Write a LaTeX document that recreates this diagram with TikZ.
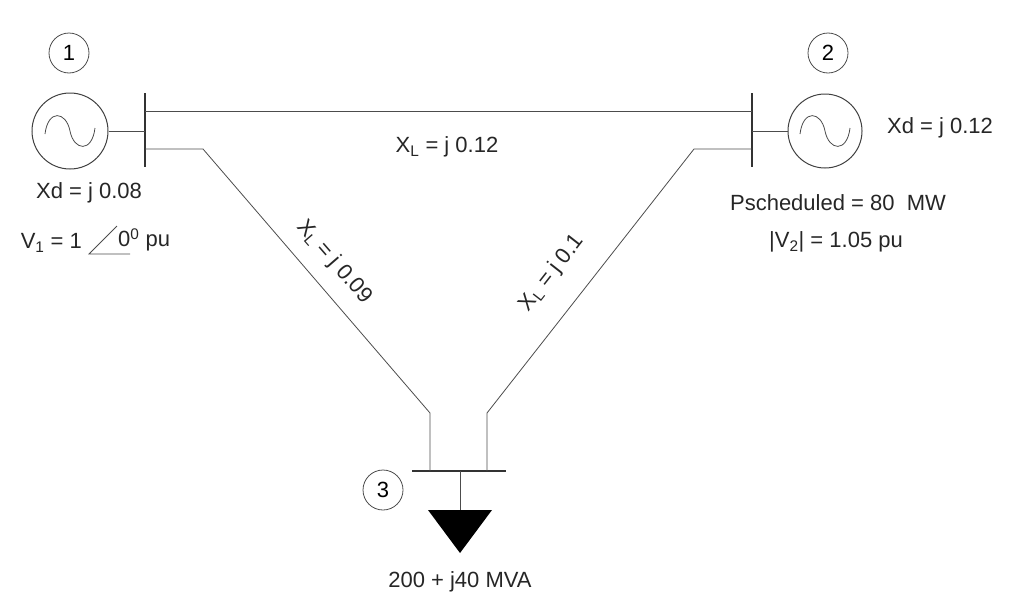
\documentclass[tikz,border=0pt]{standalone}
\usepackage{fontspec}
\setmainfont{Liberation Sans}
\usetikzlibrary{calc}
\begin{document}
\begin{tikzpicture}[x=1pt,y=-1pt,
  ln/.style={draw=black!70,line width=0.8pt},
  bus/.style={draw=black!80,line width=1.2pt},
  lbl/.style={font=\fontsize{22}{26}\selectfont,inner sep=0pt,text=black!85},
  num/.style={circle,draw=black!70,line width=0.8pt,minimum size=40pt,inner sep=0pt,font=\fontsize{22}{26}\selectfont}]
\useasboundingbox (0,0) rectangle (1024,608);
% generators
\node[circle,draw=black!75,line width=1pt,minimum size=76pt,inner sep=0pt] (g1) at (70,131) {};
\node[circle,draw=black!75,line width=1pt,minimum size=74pt,inner sep=0pt] (g2) at (825,131) {};
\foreach \c in {g1,g2}{
 \draw[ln] ($(\c.center)+(-25,3)$) .. controls ($(\c.center)+(-22,-22)$) and ($(\c.center)+(-4,-20)$) .. (\c.center) .. controls ($(\c.center)+(4,20)$) and ($(\c.center)+(22,22)$) .. ($(\c.center)+(25,-3)$);}
\node[num] (n1) at (69,53) {1};
\node[num] (n2) at (828,53) {2};
\node[num] (n3) at (383,490) {3};
% buses
\coordinate (b1t) at (145,93); \coordinate (b1b) at (145,167);
\coordinate (b2t) at (752,93); \coordinate (b2b) at (752,167);
\coordinate (b3l) at (412,471); \coordinate (b3r) at (506,471);
\draw[bus] (b1t)--(b1b); \draw[bus] (b2t)--(b2b); \draw[bus] (b3l)--(b3r);
\draw[ln] (g1.east)--(145,131);
\draw[ln] (g2.west)--(752,131);
\draw[ln] (145,111)--(752,111);
\draw[ln] (145,149)--(203,149)--(430,413)--(430,471);
\draw[ln] (752,149)--(694,149)--(487,413)--(487,471);
% load
\draw[ln] (460,471)--(460,512);
\fill[black] (428,510)--(492,510)--(460,553)--cycle;
% labels
\node[lbl] (xd1) at (89,193) {Xd = j 0.08};
\node[lbl,anchor=east] (v1) at (82,243) {V\textsubscript{1} = 1};
\draw[ln] (130,254)--(89,254)--(117,226);
\node[lbl,anchor=west] (v1b) at (118,240) {0\textsuperscript{0} pu};
\node[lbl] (xl12) at (447,147) {X\textsubscript{L} = j 0.12};
\node[lbl] (xd2) at (940,128) {Xd = j 0.12};
\node[lbl] (ps) at (838,203) {Pscheduled = 80\ \ MW};
\node[lbl] (v2) at (836,242) {|V\textsubscript{2}| = 1.05 pu};
\node[lbl,rotate=-49] (xl13) at (334,262) {X\textsubscript{L} = j 0.09};
\node[lbl,rotate=52] (xl23) at (552,273) {X\textsubscript{L} = j 0.1};
\node[lbl] (ld) at (460,582) {200 + j40 MVA};
\end{tikzpicture}
\end{document}
